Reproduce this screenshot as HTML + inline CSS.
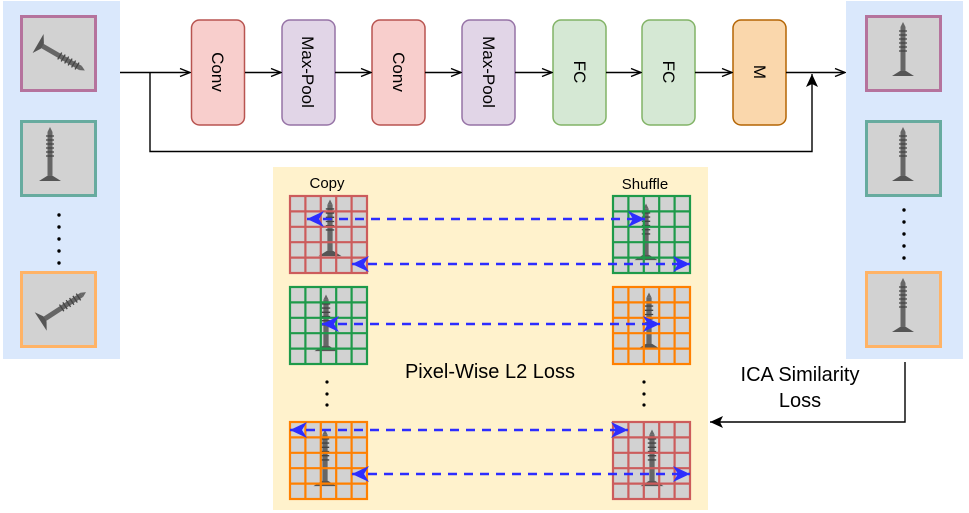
<!DOCTYPE html>
<html><head><meta charset="utf-8"><style>
body{margin:0;background:#fff}
svg{display:block}
text{font-family:"Liberation Sans",sans-serif}
</style></head><body>
<svg width="969" height="513" viewBox="0 0 969 513" xmlns="http://www.w3.org/2000/svg">
<defs>
<g id="screw">
  <rect x="-2.5" y="-26" width="5" height="46" fill="#666"/>
  <path d="M-2.5,-26 L0,-31 L2.5,-26Z" fill="#666"/>
  <path d="M-4,-22h8M-4,-18h8M-4,-14h8M-4,-10h8M-4,-6h8M-4,-2h8" stroke="#444" stroke-width="1.3"/>
  <path d="M-3,18 L-11,23 L11,23 L3,18Z" fill="#555"/>
</g>
<g id="img">
  <rect x="0" y="0" width="77" height="77" fill="#d2d2d2"/>
</g>
<marker id="oa" markerWidth="12" markerHeight="10" refX="11" refY="5" orient="auto" markerUnits="userSpaceOnUse">
  <path d="M1,1 L11,5 L1,9" fill="none" stroke="#000" stroke-width="1.4"/>
</marker>
<marker id="fa" markerWidth="14" markerHeight="12" refX="13" refY="6" orient="auto" markerUnits="userSpaceOnUse">
  <path d="M0,0 L13,6 L0,12 L3,6Z" fill="#000"/>
</marker>
<marker id="ba" markerWidth="18" markerHeight="16" refX="17" refY="8" orient="auto-start-reverse" markerUnits="userSpaceOnUse">
  <path d="M0,0 L17,8 L0,16 L5,8Z" fill="#2d2dff"/>
</marker>
<g id="grid" fill="none" stroke-width="2.2">
  <path d="M15.4,0V77M30.8,0V77M46.2,0V77M61.6,0V77M0,15.4H77M0,30.8H77M0,46.2H77M0,61.6H77"/>
  <rect x="0" y="0" width="77" height="77"/>
</g>
</defs>

<rect x="3" y="1" width="117" height="358" fill="#dae8fc"/>
<rect x="846" y="1" width="117" height="358" fill="#dae8fc"/>

<g transform="translate(20,15)"><use href="#img"/><use href="#screw" transform="translate(38,40) rotate(120)"/><rect x="1.5" y="1.5" width="74" height="74" fill="none" stroke="#b5739d" stroke-width="3"/></g>
<g transform="translate(20,120)"><use href="#img"/><use href="#screw" transform="translate(30,38)"/><rect x="1.5" y="1.5" width="74" height="74" fill="none" stroke="#67ab9f" stroke-width="3"/></g>
<g transform="translate(20,271)"><use href="#img"/><use href="#screw" transform="translate(40,38) rotate(57)"/><rect x="1.5" y="1.5" width="74" height="74" fill="none" stroke="#ffb366" stroke-width="3"/></g>
<g fill="#000"><circle cx="59" cy="215" r="1.7"/><circle cx="59" cy="227" r="1.7"/><circle cx="59" cy="239" r="1.7"/><circle cx="59" cy="251" r="1.7"/><circle cx="59" cy="263" r="1.7"/></g>

<g transform="translate(865,15)"><use href="#img"/><use href="#screw" transform="translate(38,38)"/><rect x="1.5" y="1.5" width="74" height="74" fill="none" stroke="#b5739d" stroke-width="3"/></g>
<g transform="translate(865,120)"><use href="#img"/><use href="#screw" transform="translate(38,38)"/><rect x="1.5" y="1.5" width="74" height="74" fill="none" stroke="#67ab9f" stroke-width="3"/></g>
<g transform="translate(865,271)"><use href="#img"/><use href="#screw" transform="translate(38,38)"/><rect x="1.5" y="1.5" width="74" height="74" fill="none" stroke="#ffb366" stroke-width="3"/></g>
<g fill="#000"><circle cx="904" cy="210" r="1.7"/><circle cx="904" cy="222" r="1.7"/><circle cx="904" cy="234" r="1.7"/><circle cx="904" cy="246" r="1.7"/><circle cx="904" cy="258" r="1.7"/></g>

<g stroke-width="1.5">
<rect x="191.5" y="20" width="53" height="105" rx="8" fill="#f8cecc" stroke="#b85450"/>
<rect x="282" y="20" width="53" height="105" rx="8" fill="#e1d5e7" stroke="#9673a6"/>
<rect x="372" y="20" width="53" height="105" rx="8" fill="#f8cecc" stroke="#b85450"/>
<rect x="462" y="20" width="53" height="105" rx="8" fill="#e1d5e7" stroke="#9673a6"/>
<rect x="553" y="20" width="53" height="105" rx="8" fill="#d5e8d4" stroke="#82b366"/>
<rect x="642" y="20" width="53" height="105" rx="8" fill="#d5e8d4" stroke="#82b366"/>
<rect x="733" y="20" width="53" height="105" rx="8" fill="#fad7ac" stroke="#b46504"/>
</g>
<g font-size="17" fill="#000" text-anchor="middle">
<text transform="translate(212,72) rotate(90)">Conv</text>
<text transform="translate(302,72) rotate(90)">Max-Pool</text>
<text transform="translate(393,72) rotate(90)">Conv</text>
<text transform="translate(483,72) rotate(90)">Max-Pool</text>
<text transform="translate(574,72) rotate(90)">FC</text>
<text transform="translate(663,72) rotate(90)">FC</text>
<text transform="translate(754,72) rotate(90)">M</text>
</g>

<g stroke="#000" stroke-width="1.4" fill="none">
<path d="M120,72.5H190" marker-end="url(#oa)"/>
<path d="M245,72.5H281" marker-end="url(#oa)"/>
<path d="M335,72.5H371" marker-end="url(#oa)"/>
<path d="M425,72.5H461" marker-end="url(#oa)"/>
<path d="M515,72.5H552" marker-end="url(#oa)"/>
<path d="M606,72.5H641" marker-end="url(#oa)"/>
<path d="M695,72.5H732" marker-end="url(#oa)"/>
<path d="M786,72.5H845" marker-end="url(#oa)"/>
<path d="M150,72.5V151.5H812V74" marker-end="url(#fa)"/>
<path d="M905,362V422H710" marker-end="url(#fa)"/>
</g>

<rect x="273" y="167" width="435" height="343" fill="#fff2cc"/>
<text x="327" y="188" font-size="15" text-anchor="middle">Copy</text>
<text x="645" y="189" font-size="15" text-anchor="middle">Shuffle</text>

<g transform="translate(290,196)"><use href="#img"/><use href="#screw" transform="translate(40,36) scale(1.05)"/><use href="#grid" stroke="#cc5c5c"/></g>
<g transform="translate(290,287)"><use href="#img"/><use href="#screw" transform="translate(36,40) scale(1.05)"/><use href="#grid" stroke="#1e9a4a"/></g>
<g transform="translate(290,422)"><use href="#img"/><use href="#screw" transform="translate(35,40) scale(1.05)"/><use href="#grid" stroke="#ff8000"/></g>
<g transform="translate(613,196)"><use href="#img"/><use href="#screw" transform="translate(33,40) scale(1.05)"/><use href="#grid" stroke="#1e9a4a"/></g>
<g transform="translate(613,287)"><use href="#img"/><use href="#screw" transform="translate(36,38) scale(1.05)"/><use href="#grid" stroke="#ff8000"/></g>
<g transform="translate(613,422)"><use href="#img"/><use href="#screw" transform="translate(39,40) scale(1.05)"/><use href="#grid" stroke="#cc5c5c"/></g>

<g fill="#000"><circle cx="327" cy="382" r="1.6"/><circle cx="327" cy="394" r="1.6"/><circle cx="327" cy="405" r="1.6"/>
<circle cx="644" cy="382" r="1.6"/><circle cx="644" cy="394" r="1.6"/><circle cx="644" cy="405" r="1.6"/></g>

<g stroke="#2d2dff" stroke-width="2.5" stroke-dasharray="9,7" fill="none">
<path d="M307,219H645" marker-start="url(#ba)" marker-end="url(#ba)"/>
<path d="M352,264H690" marker-start="url(#ba)" marker-end="url(#ba)"/>
<path d="M322,324H660" marker-start="url(#ba)" marker-end="url(#ba)"/>
<path d="M290,430H628" marker-start="url(#ba)" marker-end="url(#ba)"/>
<path d="M352,474H690" marker-start="url(#ba)" marker-end="url(#ba)"/>
</g>

<text x="490" y="378" font-size="20" text-anchor="middle">Pixel-Wise L2 Loss</text>
<text x="800" y="381" font-size="20" text-anchor="middle">ICA Similarity</text>
<text x="800" y="407" font-size="20" text-anchor="middle">Loss</text>
</svg>
</body></html>
